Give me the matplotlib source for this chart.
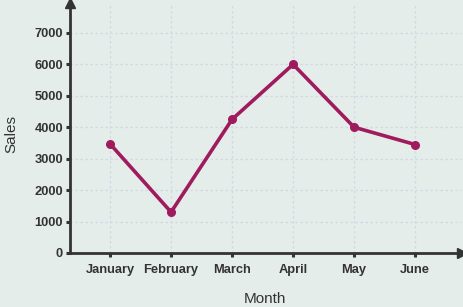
import matplotlib
matplotlib.use("Agg")
import matplotlib.pyplot as plt

months = ["January", "February", "March", "April", "May", "June"]
sales = [3470, 1300, 4250, 6000, 4000, 3450]
yticks = [0, 1000, 2000, 3000, 4000, 5000, 6000, 7000]

bg = "#e5edea"
line_c = "#a01b5e"
axis_c = "#333333"

fig = plt.figure(figsize=(4.64, 3.07), dpi=100, facecolor=bg)
ax = fig.add_axes([0.1509, 0.176, 0.845, 0.814])
ax.set_facecolor(bg)

x = list(range(len(months)))
ax.plot(x, sales, color=line_c, lw=2.6, marker="o", ms=5.5, zorder=3,
        solid_joinstyle="round", clip_on=False)

ax.set_xlim(-0.656, 5.77)
ax.set_ylim(0, 7950)
ax.set_xticks(x)
ax.set_xticklabels(months, fontfamily="Liberation Sans", fontweight="bold",
                   fontsize=9.3, color=axis_c)
ax.set_yticks(yticks)
ax.set_yticklabels([str(v) for v in yticks], fontfamily="Liberation Sans",
                   fontweight="bold", fontsize=9.3, color=axis_c)
ax.tick_params(axis="both", length=3, width=2.2, color=axis_c, direction="out")
ax.tick_params(axis="y", pad=2)
ax.tick_params(axis="x", pad=5)

ax.grid(True, color="#d3d8e6", linestyle=(0, (2, 2)), lw=0.9)
ax.set_axisbelow(True)

for s in ["top", "right"]:
    ax.spines[s].set_visible(False)
for s in ["left", "bottom"]:
    ax.spines[s].set_color(axis_c)
    ax.spines[s].set_linewidth(2)

ax.plot(0, 1, marker="^", ms=7, color=axis_c, transform=ax.transAxes, clip_on=False)
ax.plot(1, 0, marker=">", ms=7, color=axis_c, transform=ax.transAxes, clip_on=False)

fig.text(0.024, 0.565, "Sales", rotation=90, ha="center", va="center",
         fontfamily="Liberation Sans", fontsize=11, color=axis_c)
fig.text(0.571, 0.025, "Month", ha="center", va="center",
         fontfamily="Liberation Sans", fontsize=11, color=axis_c)

fig.savefig("out.png", dpi=100, facecolor=bg)
